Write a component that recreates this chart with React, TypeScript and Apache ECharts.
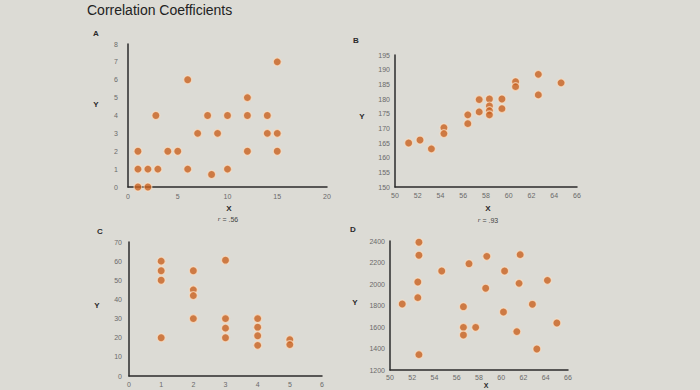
import React, { useEffect, useRef } from "react";
import * as echarts from "echarts";

// Panel A
const aX = [1, 1, 1, 2, 2, 3, 2.8, 4, 5, 6, 6, 7, 8, 8.4, 9, 10, 10, 12, 12, 12, 14, 14, 15, 15, 15];
const aY = [2, 1, 0, 1, 0, 1, 4, 2, 2, 6, 1, 3, 4, 0.7, 3, 4, 1, 5, 4, 2, 4, 3, 3, 2, 7];
// Panel B
const bX = [51.2, 52.2, 53.2, 54.3, 54.3, 56.4, 56.4, 57.4, 57.4, 58.3, 58.3, 58.3, 58.3, 59.4, 59.4, 60.6, 60.6, 62.6, 62.6, 64.6];
const bY = [165, 166, 163, 170.2, 168.2, 174.6, 171.6, 179.8, 175.6, 180, 177.6, 176, 174.6, 180, 176.7, 185.9, 184.2, 188.4, 181.4, 185.5];
// Panel C
const cX = [1, 1, 1, 1, 2, 2, 2, 2, 3, 3, 3, 3, 4, 4, 4, 4, 5, 5];
const cY = [60, 55, 50, 20, 55, 45, 42, 30, 60.5, 30, 25, 20, 30, 25.5, 21, 16, 19, 16.4];
// Panel D
const dX = [52.6, 52.6, 54.65, 57.1, 58.7, 61.7, 60.3, 52.5, 58.6, 61.6, 64.15, 66.8, 52.5, 51.1, 56.6, 60.2, 62.8, 56.6, 57.7, 56.6, 61.4, 65.0, 63.2, 52.6];
const dY = [2388, 2267, 2121, 2189, 2257, 2273, 2121, 2019, 1960, 2006, 2034, 2034, 1873, 1814, 1789, 1740, 1811, 1597, 1597, 1525, 1557, 1637, 1395, 1343];

const panelLetters = ["A", "B", "C", "D"];
const rLabels = [".56", ".93"];

const zip = (xs: number[], ys: number[]) => xs.map((x, i) => [x, ys[i]]);

export default function App() {
  const ref = useRef<HTMLDivElement>(null);
  useEffect(() => {
    if (!ref.current) return;
    const chart = echarts.init(ref.current, null, { renderer: "svg" });
    const axisLine = { show: true, lineStyle: { color: "#2b2b2b", width: 1.5 } };
    const axisLabel = (margin: number) => ({
      color: "#6a6a6a",
      fontSize: 7,
      margin,
      fontFamily: "Liberation Sans",
      formatter: (v: number) => String(v),
    });
    const base = {
      axisLine,
      axisTick: { show: false },
      splitLine: { show: false },
    };
    const grids = [
      { left: 128, top: 44, width: 199, height: 143 },
      { left: 395, top: 55, width: 182, height: 132 },
      { left: 129, top: 242, width: 193, height: 134 },
      { left: 390, top: 241, width: 178, height: 129 },
    ];
    const xAxes = [
      { ...base, type: "value", gridIndex: 0, min: 0, max: 20, interval: 5, axisLabel: axisLabel(6) },
      { ...base, type: "value", gridIndex: 1, min: 50, max: 66, interval: 2, axisLabel: axisLabel(5) },
      { ...base, type: "value", gridIndex: 2, min: 0, max: 6, interval: 1, axisLabel: axisLabel(5) },
      { ...base, type: "value", gridIndex: 3, min: 50, max: 66, interval: 2, axisLabel: axisLabel(4) },
    ];
    const yAxes = [
      { ...base, type: "value", gridIndex: 0, min: 0, max: 8, interval: 1, axisLabel: axisLabel(10) },
      { ...base, type: "value", gridIndex: 1, min: 150, max: 195, interval: 5, axisLabel: axisLabel(5) },
      { ...base, type: "value", gridIndex: 2, min: 0, max: 70, interval: 10, axisLabel: axisLabel(7) },
      { ...base, type: "value", gridIndex: 3, min: 1200, max: 2400, interval: 200, axisLabel: axisLabel(5) },
    ];
    const dotStyle = {
      color: "#c9621f",
      borderColor: "rgba(252,226,200,0.9)",
      borderWidth: 1.2,
    };
    const datas = [zip(aX, aY), zip(bX, bY), zip(cX, cY), zip(dX, dY)];
    const series = datas.map((d, i) => ({
      type: "scatter",
      xAxisIndex: i,
      yAxisIndex: i,
      data: d,
      symbolSize: 8,
      itemStyle: dotStyle,
    }));
    const txt = (x: number, y: number, text: string, size: number, weight = "bold", color = "#2a2a2a") => ({
      type: "text",
      x,
      y,
      style: {
        text,
        fontSize: size,
        fontWeight: weight,
        fill: color,
        fontFamily: "Liberation Sans",
        textAlign: "center",
        textVerticalAlign: "middle",
      },
    });
    const rText = (x: number, y: number, v: string) => ({
      type: "text",
      x,
      y,
      style: {
        text: "{i|r} = " + v,
        fontSize: 7,
        fill: "#444",
        fontFamily: "Liberation Sans",
        textAlign: "center",
        textVerticalAlign: "middle",
        rich: { i: { fontStyle: "italic", fontSize: 7, fill: "#444", fontFamily: "Liberation Serif" } },
      },
    });
    const graphic = [
      {
        type: "text",
        x: 87,
        y: 10,
        style: {
          text: "Correlation Coefficients",
          fontSize: 14,
          fill: "#222",
          fontFamily: "Liberation Sans",
          textAlign: "left",
          textVerticalAlign: "middle",
        },
      },
      txt(96, 33, panelLetters[0], 8),
      txt(356, 40, panelLetters[1], 8),
      txt(100, 231, panelLetters[2], 8),
      txt(353, 229, panelLetters[3], 8),
      txt(96, 104, "Y", 8),
      txt(362, 116, "Y", 8),
      txt(97, 305, "Y", 8),
      txt(355, 302, "Y", 8),
      txt(229, 208, "X", 8),
      txt(488, 208, "X", 8),
      txt(486, 385, "X", 7),
      rText(228, 219, rLabels[0]),
      rText(488, 220, rLabels[1]),
    ];
    chart.setOption({
      animation: false,
      backgroundColor: "#dcdbd5",
      grid: grids,
      xAxis: xAxes,
      yAxis: yAxes,
      series,
      graphic,
    });
    return () => chart.dispose();
  }, []);
  return <div ref={ref} style={{ position: "fixed", left: 0, top: 0, width: 700, height: 390 }} />;
}
